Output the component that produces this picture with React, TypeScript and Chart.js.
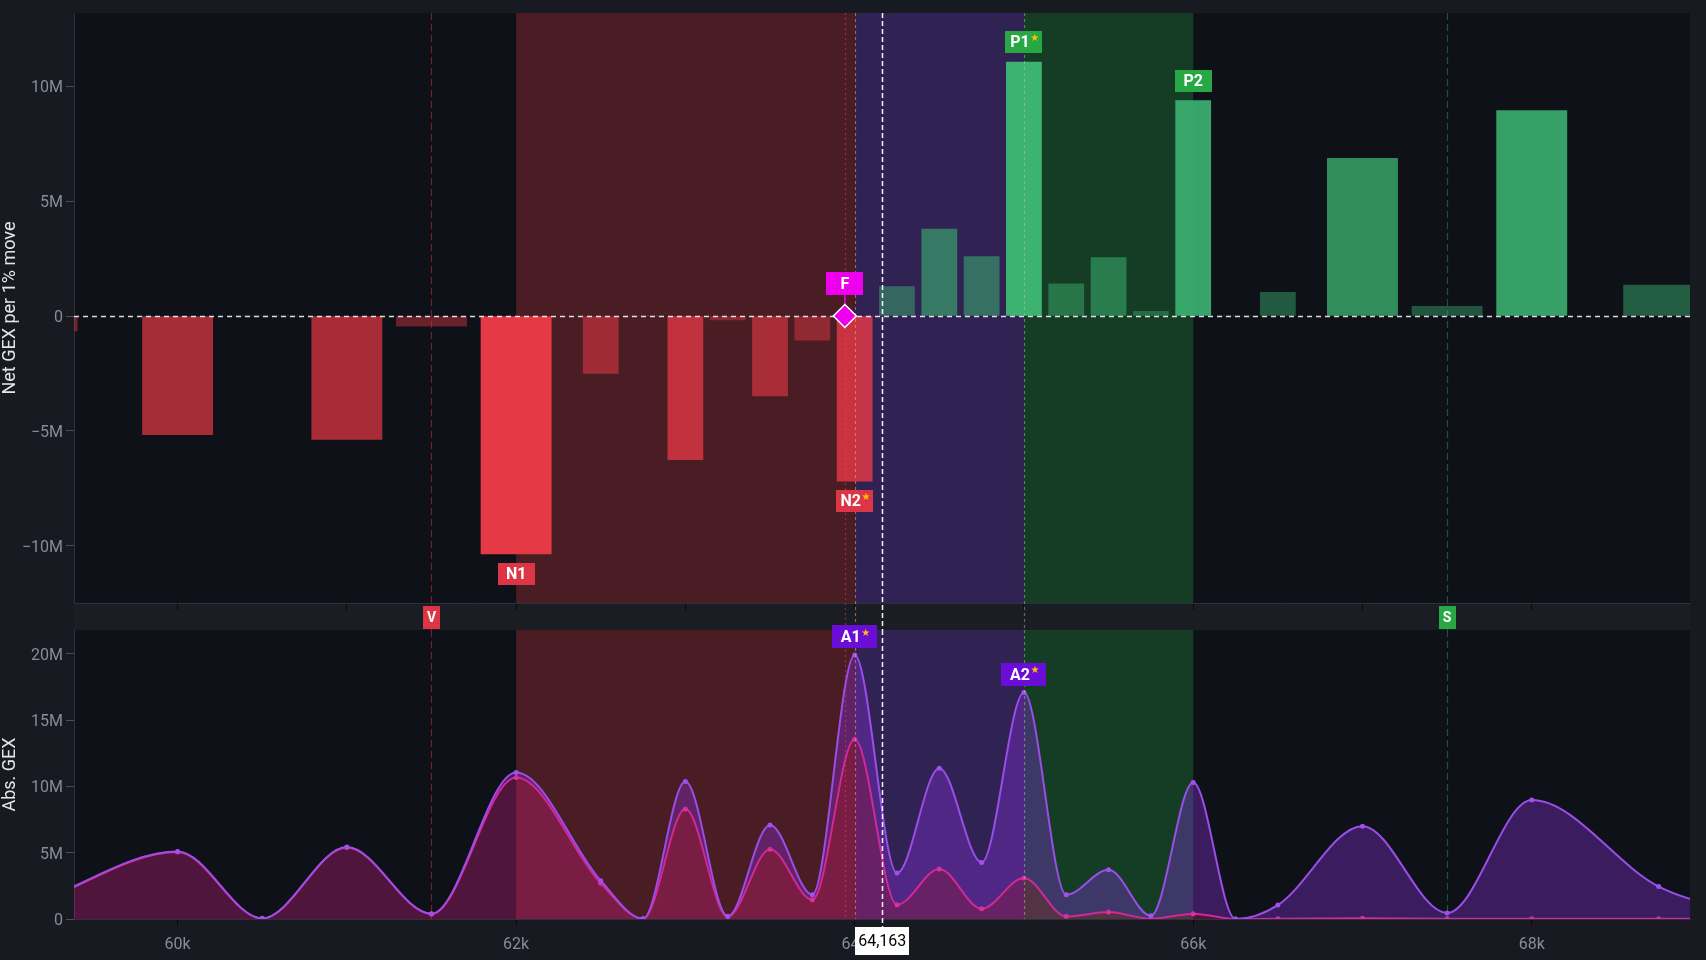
import React, { useEffect, useRef } from 'react';
import { Chart, registerables } from 'chart.js';

Chart.register(...registerables);

// ---- data (GEX values in millions) ----
const strikes = [59200, 60000, 60500, 61000, 61500, 62000, 62500, 62750, 63000, 63250, 63500, 63750, 64000, 64250, 64500, 64750, 65000, 65250, 65500, 65750, 66000, 66250, 66500, 67000, 67500, 68000, 68750, 69250];
const netGex = [-0.65, -5.17, 0, -5.37, -0.44, -10.36, -2.5, 0, -6.26, -0.17, -3.48, -1.05, -7.19, 1.28, 3.79, 2.59, 11.06, 1.4, 2.55, 0.2, 9.38, 0, 1.03, 6.87, 0.42, 8.95, 1.35, 0.3];
const absGex = [1.45, 5.1, 0.05, 5.43, 0.4, 11.05, 2.89, 0.02, 10.37, 0.2, 7.1, 1.83, 19.92, 3.47, 11.38, 4.27, 17.08, 1.83, 3.72, 0.25, 10.29, 0, 1.05, 7.0, 0.45, 8.97, 2.45, 0.4];
const putGex = [1.38, 5.05, 0.04, 5.4, 0.38, 10.67, 2.7, 0.01, 8.29, 0.18, 5.27, 1.45, 13.55, 1.08, 3.77, 0.78, 3.09, 0.2, 0.53, 0.02, 0.4, 0, 0.01, 0.06, 0.01, 0.01, 0.02, 0];

const topTickValues = [60000, 61000, 62000, 63000, 64000, 65000, 66000, 67000, 68000];
const bottomTickValues = [60000, 62000, 64000, 66000, 68000];
const netTickValues = [-10, -5, 0, 5, 10];
const absTickValues = [0, 5, 10, 15, 20];

const spotPrice = 64163;
const flipLevel = 63942;
const zoneEdges = [62000, 64000, 65000, 66000];

const markerTags = ['V', 'S'];
const markerStrikes = [61500, 67500];

const netTags = ['N1', 'N2', 'P1', 'P2'];
const netTagStrikes = [62000, 64000, 65000, 66000];
const netTagStars = [false, true, true, false];

const absTags = ['A1', 'A2'];
const absTagStrikes = [64000, 65000];
const absTagStars = [true, true];

const X_MIN = 59388;
const X_MAX = 68935;
const NET_MIN = -12.5;
const NET_MAX = 13.2;
const ABS_MAX = 21.8;

// ---- layout & style ----
const W = 1706;
const TOP_H = 630;
const BOT_TOP = 600;
const BOT_H = 360;
const AXIS_W = 74;
const PAD_R = 16;
const FONT = 'Roboto, "Noto Sans", "DejaVu Sans", sans-serif';

const PAGE_BG = '#171a20';
const PLOT_BG = '#0e1117';
const BAND_BG = '#1a1d24';
const TICK_TEXT = '#868d97';
const TITLE_TEXT = '#e2e5ea';
const AXIS_LINE = '#2c313a';
const RED = '#dc3545';
const GREEN = '#28a745';
const VIOLET = '#6a0dd6';
const FLIP = '#ee00ee';

const zoneColors = ['rgba(230,57,70,0.28)', 'rgba(111,66,193,0.35)', 'rgba(40,167,69,0.3)'];

const pxPerUnit = (W - PAD_R - AXIS_W) / (X_MAX - X_MIN);

const maxPos = Math.max(...netGex);
const maxNeg = Math.max(...netGex.map((v) => -v));

function barColor(ctx: any) {
  const v = ctx.raw && typeof ctx.raw.y === 'number' ? ctx.raw.y : 0;
  const r = v >= 0 ? v / maxPos : -v / maxNeg;
  const a = (0.4 + 0.6 * r).toFixed(3);
  return v >= 0 ? `rgba(60,179,113,${a})` : `rgba(230,57,70,${a})`;
}

// bar width follows the local strike spacing (capped at 500)
const gaps = strikes.map((s, i) =>
  Math.min(
    500,
    i > 0 ? s - strikes[i - 1] : Infinity,
    i < strikes.length - 1 ? strikes[i + 1] - s : Infinity
  )
);
const gapGroups = Array.from(new Set(gaps));

function levelLines() {
  return [
    { x: markerStrikes[0], color: 'rgba(230,57,70,0.45)', dash: [7, 4], width: 1.2 },
    { x: markerStrikes[1], color: 'rgba(60,179,113,0.4)', dash: [7, 4], width: 1.2 },
    { x: flipLevel, color: 'rgba(235,70,130,0.45)', dash: [2, 3], width: 1.2 },
    { x: netTagStrikes[1], color: 'rgba(255,170,60,0.55)', dash: [3, 3], width: 1.2 },
    { x: netTagStrikes[2], color: 'rgba(190,200,180,0.45)', dash: [3, 3], width: 1.2 },
    { x: spotPrice, color: 'rgba(255,255,255,0.95)', dash: [5, 3], width: 1.5, spot: true },
  ];
}

function drawTag(ctx: CanvasRenderingContext2D, cx: number, top: number, w: number, h: number, bg: string, text: string, star: boolean, size = 16) {
  ctx.save();
  ctx.fillStyle = bg;
  ctx.fillRect(Math.round(cx - w / 2), Math.round(top), w, h);
  ctx.font = `bold ${size}px ${FONT}`;
  const tw = ctx.measureText(text).width;
  const sw = star ? 8 : 0;
  const x0 = cx - (tw + sw) / 2;
  ctx.textAlign = 'left';
  ctx.textBaseline = 'middle';
  ctx.fillStyle = '#ffffff';
  ctx.fillText(text, x0, top + h / 2 + 1);
  if (star) {
    ctx.font = '10px "DejaVu Sans", sans-serif';
    ctx.fillStyle = '#ffc107';
    ctx.fillText('★', x0 + tw + 0.5, top + h / 2 - 4);
  }
  ctx.restore();
}

function drawZones(chart: any) {
  const { ctx, chartArea: a } = chart;
  const xs = chart.scales.x;
  ctx.save();
  for (let i = 0; i < zoneEdges.length - 1; i++) {
    const x0 = xs.getPixelForValue(zoneEdges[i]);
    const x1 = xs.getPixelForValue(zoneEdges[i + 1]);
    ctx.fillStyle = zoneColors[i];
    ctx.fillRect(x0, a.top, x1 - x0, a.bottom - a.top);
  }
  ctx.restore();
}

function drawLevelLines(chart: any, y0: number, y1: number, spotEnd: number) {
  const { ctx } = chart;
  const xs = chart.scales.x;
  ctx.save();
  for (const l of levelLines()) {
    const x = Math.round(xs.getPixelForValue(l.x)) + 0.5;
    ctx.strokeStyle = l.color;
    ctx.lineWidth = l.width;
    ctx.setLineDash(l.dash);
    ctx.beginPath();
    ctx.moveTo(x, y0);
    ctx.lineTo(x, (l as any).spot ? spotEnd : y1);
    ctx.stroke();
  }
  ctx.restore();
}

function noPad(s: any) {
  s.paddingTop = 0;
  s.paddingBottom = 0;
  s.paddingLeft = 0;
  s.paddingRight = 0;
}

const topDecor = {
  id: 'topDecor',
  beforeDraw(chart: any) {
    const { ctx, chartArea: a } = chart;
    ctx.save();
    ctx.fillStyle = PLOT_BG;
    ctx.fillRect(a.left, a.top, a.right - a.left, a.bottom - a.top);
    ctx.fillStyle = BAND_BG;
    ctx.fillRect(a.left, a.bottom, a.right - a.left, chart.height - a.bottom);
    ctx.restore();
  },
  beforeDatasetsDraw(chart: any) {
    drawZones(chart);
  },
  afterDatasetsDraw(chart: any) {
    const { ctx, chartArea: a } = chart;
    const ys = chart.scales.y;
    const zy = Math.round(ys.getPixelForValue(0)) + 0.5;
    ctx.save();
    ctx.strokeStyle = 'rgba(255,255,255,0.85)';
    ctx.lineWidth = 1.5;
    ctx.setLineDash([5, 4]);
    ctx.beginPath();
    ctx.moveTo(a.left, zy);
    ctx.lineTo(a.right, zy);
    ctx.stroke();
    ctx.restore();
    drawLevelLines(chart, a.top, chart.height, chart.height);
  },
  afterDraw(chart: any) {
    const { ctx, chartArea: a } = chart;
    const xs = chart.scales.x;
    const ys = chart.scales.y;

    netTags.forEach((t, i) => {
      const s = netTagStrikes[i];
      const v = netGex[strikes.indexOf(s)];
      const cx = xs.getPixelForValue(s);
      const py = ys.getPixelForValue(v);
      const top = v >= 0 ? py - 9 - 22 : py + 9;
      drawTag(ctx, cx, top, 37, 22, v >= 0 ? GREEN : RED, t, netTagStars[i]);
    });

    // gamma flip marker on the zero line
    const fx = xs.getPixelForValue(flipLevel);
    const zy = ys.getPixelForValue(0);
    const r = 11.5;
    ctx.save();
    ctx.strokeStyle = FLIP;
    ctx.lineWidth = 1.5;
    ctx.beginPath();
    ctx.moveTo(fx, zy - 44 + 23);
    ctx.lineTo(fx, zy - r);
    ctx.stroke();
    ctx.beginPath();
    ctx.moveTo(fx, zy - r);
    ctx.lineTo(fx + r, zy);
    ctx.lineTo(fx, zy + r);
    ctx.lineTo(fx - r, zy);
    ctx.closePath();
    ctx.fillStyle = FLIP;
    ctx.fill();
    ctx.strokeStyle = '#ffffff';
    ctx.lineWidth = 1.5;
    ctx.stroke();
    ctx.restore();
    drawTag(ctx, fx, zy - 44, 37, 23, FLIP, 'F', false);

    markerTags.forEach((t, i) => {
      const cx = xs.getPixelForValue(markerStrikes[i]);
      drawTag(ctx, cx, a.bottom + 3, 17, 23, i === 0 ? RED : GREEN, t, false, 14);
    });
  },
};

const bottomDecor = {
  id: 'bottomDecor',
  beforeDraw(chart: any) {
    const { ctx, chartArea: a } = chart;
    ctx.save();
    ctx.fillStyle = PLOT_BG;
    ctx.fillRect(a.left, a.top, a.right - a.left, a.bottom - a.top);
    ctx.restore();
  },
  beforeDatasetsDraw(chart: any) {
    drawZones(chart);
  },
  afterDatasetsDraw(chart: any) {
    const { chartArea: a } = chart;
    drawLevelLines(chart, a.top, a.bottom, a.bottom + 8);
  },
  afterDraw(chart: any) {
    const { ctx, chartArea: a } = chart;
    const xs = chart.scales.x;
    const ys = chart.scales.y;
    absTags.forEach((t, i) => {
      const s = absTagStrikes[i];
      const v = absGex[strikes.indexOf(s)];
      const cx = xs.getPixelForValue(s);
      const py = ys.getPixelForValue(v);
      drawTag(ctx, cx, py - 6.5 - 23, 45, 23, VIOLET, t, absTagStars[i]);
    });
    // spot price tag
    const sx = xs.getPixelForValue(spotPrice);
    ctx.save();
    ctx.fillStyle = '#ffffff';
    ctx.fillRect(Math.round(sx - 27), Math.round(a.bottom + 8), 54, 28);
    ctx.fillStyle = '#000000';
    ctx.font = `16px ${FONT}`;
    ctx.textAlign = 'center';
    ctx.textBaseline = 'middle';
    ctx.fillText(spotPrice.toLocaleString('en-US'), sx, a.bottom + 8 + 14.5);
    ctx.restore();
  },
};

function fmtNet(v: number) {
  if (v === 0) return '0';
  return `${v < 0 ? '\u2212' : ''}${Math.abs(v)}M`;
}

function topConfig(): any {
  return {
    type: 'bar',
    data: {
      datasets: gapGroups.map((g) => ({
        data: strikes
          .map((s, i) => (gaps[i] === g ? { x: s, y: netGex[i] } : null))
          .filter((p) => p !== null),
        backgroundColor: barColor,
        borderWidth: 0,
        grouped: false,
        barThickness: g * 0.83 * pxPerUnit,
      })),
    },
    options: {
      responsive: false,
      animation: false,
      devicePixelRatio: 1,
      events: [],
      layout: { padding: { top: 13, right: PAD_R, left: 0, bottom: 0 } },
      plugins: { legend: { display: false }, tooltip: { enabled: false } },
      scales: {
        x: {
          type: 'linear',
          min: X_MIN,
          max: X_MAX,
          offset: false,
          afterBuildTicks: (s: any) => {
            s.ticks = topTickValues.map((v) => ({ value: v }));
          },
          afterFit: (s: any) => {
            s.height = TOP_H - 603;
            noPad(s);
          },
          ticks: { display: false },
          grid: { drawOnChartArea: false, drawTicks: true, tickLength: 7, color: '#06080b', offset: false },
          border: { display: true, color: AXIS_LINE },
        },
        y: {
          min: NET_MIN,
          max: NET_MAX,
          afterBuildTicks: (s: any) => {
            s.ticks = netTickValues.map((v) => ({ value: v }));
          },
          afterFit: (s: any) => {
            s.width = AXIS_W;
            noPad(s);
          },
          ticks: { color: TICK_TEXT, font: { family: FONT, size: 16 }, padding: 3, labelOffset: 2, callback: (v: number) => fmtNet(v) },
          grid: { drawOnChartArea: false, drawTicks: true, tickLength: 8, color: '#4a5059' },
          border: { display: true, color: AXIS_LINE },
          title: { display: true, text: 'Net GEX per 1% move', color: TITLE_TEXT, font: { family: FONT, size: 18 }, padding: 0 },
        },
      },
    },
    plugins: [topDecor],
  };
}

function bottomConfig(): any {
  return {
    type: 'line',
    data: {
      datasets: [
        {
          data: strikes.map((s, i) => ({ x: s, y: absGex[i] })),
          borderColor: '#9b4de8',
          borderWidth: 2,
          pointRadius: 2.5,
          pointBorderWidth: 0,
          pointBackgroundColor: '#a050ee',
          backgroundColor: 'rgba(140,50,230,0.35)',
          fill: '+1',
          cubicInterpolationMode: 'monotone',
        },
        {
          data: strikes.map((s, i) => ({ x: s, y: putGex[i] })),
          borderColor: '#e0268a',
          borderWidth: 2,
          pointRadius: 2.5,
          pointBorderWidth: 0,
          pointBackgroundColor: '#e8308f',
          backgroundColor: 'rgba(220,30,140,0.32)',
          fill: 'origin',
          cubicInterpolationMode: 'monotone',
        },
      ],
    },
    options: {
      responsive: false,
      animation: false,
      devicePixelRatio: 1,
      events: [],
      layout: { padding: { top: 30, right: PAD_R, left: 0, bottom: 0 } },
      plugins: { legend: { display: false }, tooltip: { enabled: false } },
      scales: {
        x: {
          type: 'linear',
          min: X_MIN,
          max: X_MAX,
          offset: false,
          afterBuildTicks: (s: any) => {
            s.ticks = bottomTickValues.map((v) => ({ value: v }));
          },
          afterFit: (s: any) => {
            s.height = BOT_H - 319;
            noPad(s);
          },
          ticks: { color: TICK_TEXT, font: { family: FONT, size: 16 }, padding: 10, maxRotation: 0, callback: (v: number) => `${v / 1000}k` },
          grid: { drawOnChartArea: false, drawTicks: true, tickLength: 6, color: '#06080b' },
          border: { display: true, color: AXIS_LINE },
        },
        y: {
          min: 0,
          max: ABS_MAX,
          afterBuildTicks: (s: any) => {
            s.ticks = absTickValues.map((v) => ({ value: v }));
          },
          afterFit: (s: any) => {
            s.width = AXIS_W;
            noPad(s);
          },
          ticks: { color: TICK_TEXT, font: { family: FONT, size: 16 }, padding: 3, labelOffset: 2, callback: (v: number) => (v === 0 ? '0' : `${v}M`) },
          grid: { drawOnChartArea: false, drawTicks: true, tickLength: 8, color: '#4a5059' },
          border: { display: true, color: AXIS_LINE },
          title: { display: true, text: 'Abs. GEX', color: TITLE_TEXT, font: { family: FONT, size: 18 }, padding: 0 },
        },
      },
    },
    plugins: [bottomDecor],
  };
}

export default function App() {
  const topRef = useRef<HTMLCanvasElement>(null);
  const botRef = useRef<HTMLCanvasElement>(null);

  useEffect(() => {
    document.body.style.margin = '0';
    document.body.style.background = PAGE_BG;
    const top = new Chart(topRef.current as HTMLCanvasElement, topConfig());
    const bot = new Chart(botRef.current as HTMLCanvasElement, bottomConfig());
    return () => {
      top.destroy();
      bot.destroy();
    };
  }, []);

  return (
    <div style={{ position: 'relative', width: W, height: 960, background: PAGE_BG, overflow: 'hidden' }}>
      <canvas
        ref={topRef}
        width={W}
        height={TOP_H}
        style={{ position: 'absolute', left: 0, top: 0, width: W, height: TOP_H }}
      />
      <canvas
        ref={botRef}
        width={W}
        height={BOT_H}
        style={{ position: 'absolute', left: 0, top: BOT_TOP, width: W, height: BOT_H }}
      />
    </div>
  );
}
